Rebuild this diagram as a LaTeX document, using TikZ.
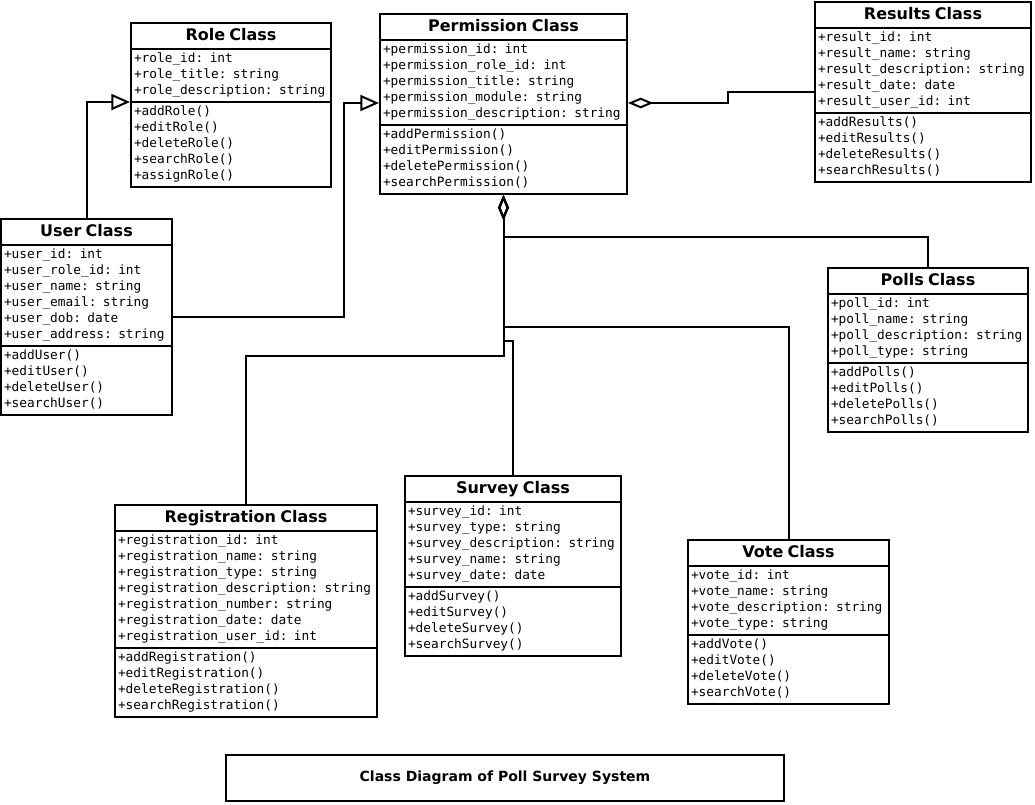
\documentclass[tikz,border=0pt]{standalone}
\usepackage{fontspec}
\setmainfont{DejaVu Sans}
\setmonofont{DejaVu Sans Mono}
\usetikzlibrary{arrows.meta,shapes.multipart,positioning}
\newcommand{\ctitle}[1]{\makebox[\hsize][c]{\rmfamily\bfseries\fontsize{12}{15.75}\selectfont\strut#1}}
\tikzset{
	umlclass/.style={
		draw=black,
		rectangle split,
		rectangle split parts=3,
		anchor=north west,
		align=left,
		inner xsep=2.25pt,
		inner ysep=1.125pt,
		font=\ttfamily\fontsize{9.6}{12}\selectfont
	},
	gen/.style={-{Triangle[open,length=14pt,width=12pt]}},
	agg/.style={-{Diamond[open,length=19pt,width=8pt]}},
	caption/.style={
		draw=black,
		minimum width=418.5pt,
		minimum height=34.5pt,
		font=\bfseries\fontsize{10.5}{12}\selectfont
	}
}
\begin{document}
\begin{tikzpicture}[x=0.75pt,y=-0.75pt,line width=1.5pt]
	\path [use as bounding box, fill=white] (0,0) rectangle (1035,804);

	\node [umlclass, text width=145.5pt] (role) at (130,22) {\ctitle{Role Class}
		\nodepart{two}\strut+role\_id: int\\+role\_title: string\\+role\_description: string\strut
		\nodepart{three}\strut+addRole()\\+editRole()\\+deleteRole()\\+searchRole()\\+assignRole()\strut};
	\node [umlclass, text width=180.75pt] (perm) at (379,13) {\ctitle{Permission Class}
		\nodepart{two}\strut+permission\_id: int\\+permission\_role\_id: int\\+permission\_title: string\\+permission\_module: string\\+permission\_description: string\strut
		\nodepart{three}\strut+addPermission()\\+editPermission()\\+deletePermission()\\+searchPermission()\strut};
	\node [umlclass, text width=157.5pt] (results) at (814,1) {\ctitle{Results Class}
		\nodepart{two}\strut+result\_id: int\\+result\_name: string\\+result\_description: string\\+result\_date: date\\+result\_user\_id: int\strut
		\nodepart{three}\strut+addResults()\\+editResults()\\+deleteResults()\\+searchResults()\strut};
	\node [umlclass, text width=123.75pt] (user) at (0,218) {\ctitle{User Class}
		\nodepart{two}\strut+user\_id: int\\+user\_role\_id: int\\+user\_name: string\\+user\_email: string\\+user\_dob: date\\+user\_address: string\strut
		\nodepart{three}\strut+addUser()\\+editUser()\\+deleteUser()\\+searchUser()\strut};
	\node [umlclass, text width=145.5pt] (polls) at (827,267) {\ctitle{Polls Class}
		\nodepart{two}\strut+poll\_id: int\\+poll\_name: string\\+poll\_description: string\\+poll\_type: string\strut
		\nodepart{three}\strut+addPolls()\\+editPolls()\\+deletePolls()\\+searchPolls()\strut};
	\node [umlclass, text width=157.5pt] (survey) at (404,475) {\ctitle{Survey Class}
		\nodepart{two}\strut+survey\_id: int\\+survey\_type: string\\+survey\_description: string\\+survey\_name: string\\+survey\_date: date\strut
		\nodepart{three}\strut+addSurvey()\\+editSurvey()\\+deleteSurvey()\\+searchSurvey()\strut};
	\node [umlclass, text width=192pt] (reg) at (114,504) {\ctitle{Registration Class}
		\nodepart{two}\strut+registration\_id: int\\+registration\_name: string\\+registration\_type: string\\+registration\_description: string\\+registration\_number: string\\+registration\_date: date\\+registration\_user\_id: int\strut
		\nodepart{three}\strut+addRegistration()\\+editRegistration()\\+deleteRegistration()\\+searchRegistration()\strut};
	\node [umlclass, text width=146.25pt] (vote) at (687,539) {\ctitle{Vote Class}
		\nodepart{two}\strut+vote\_id: int\\+vote\_name: string\\+vote\_description: string\\+vote\_type: string\strut
		\nodepart{three}\strut+addVote()\\+editVote()\\+deleteVote()\\+searchVote()\strut};

	\node [caption] (title) at (505,778) {Class Diagram of Poll Survey System};

	\draw [gen] (user.north) |- (role.two split west);
	\draw [gen] (user.east) -| (344,103) -- (perm.west |- 344,103);
	\draw [agg] (results.west) -| (728,103) -- (perm.east |- 728,103);
	\draw [agg] (polls.north) |- (perm.south |- 0,237) -- (perm.south);
	\draw [agg] (vote.north) |- (perm.south |- 0,327) -- (perm.south);
	\draw [agg] (survey.north) |- (perm.south |- 0,341) -- (perm.south);
	\draw [agg] (reg.north) |- (perm.south |- 0,356) -- (perm.south);
\end{tikzpicture}
\end{document}
